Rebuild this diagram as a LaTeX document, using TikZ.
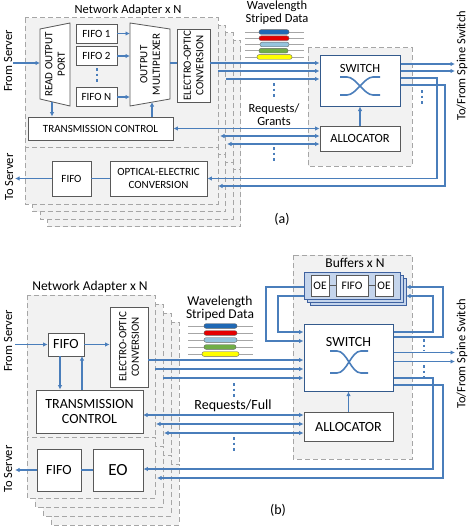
\documentclass[tikz,border=0pt]{standalone}
\usepackage{fontspec}
\setmainfont{Carlito}
\usetikzlibrary{arrows.meta}
\definecolor{lineblue}{RGB}{74,126,187}
\definecolor{boxgray}{RGB}{89,89,89}
\definecolor{stackgray}{RGB}{166,166,166}
\definecolor{stackfill}{RGB}{242,242,242}
\definecolor{switchblue}{RGB}{52,90,140}
\definecolor{buffill}{RGB}{197,213,236}
\definecolor{bufdark}{RGB}{63,98,160}
\definecolor{pblue}{RGB}{31,104,180}
\definecolor{pred}{RGB}{228,0,0}
\definecolor{plblue}{RGB}{150,196,222}
\definecolor{pgreen}{RGB}{112,173,71}
\definecolor{pyellow}{RGB}{255,255,0}

\begin{document}
\begin{tikzpicture}[x=1pt,y=-1pt,
    >={Latex[length=4.5pt,width=4.5pt]},
    wire/.style={lineblue,line width=1.5pt},
    box/.style={draw=boxgray,fill=white,line width=0.8pt,inner sep=0pt,align=center},
    stack/.style={draw=stackgray,fill=stackfill,line width=1pt,dash pattern=on 5pt off 3pt},
    vdots/.style={lineblue,line width=2.6pt,dash pattern=on 2.6pt off 3pt},
    pill/.style={draw=black!60,line width=0.4pt,rounded corners=2pt},
    txa/.style={font=\fontsize{11}{12.5}\selectfont,align=center},
    txm/.style={font=\fontsize{12.5}{13}\selectfont,align=center},
    txb/.style={font=\fontsize{14}{16}\selectfont,align=center}]
    \useasboundingbox (0,0) rectangle (468,527);

    % ---------------- (a) ----------------
    \foreach \k in {22.5,15,7.5,0} {
        \draw[stack] (25+\k,18+\k) rectangle (218+\k,147+\k);
        \draw[stack] (25+\k,147+\k) rectangle (218+\k,204+\k);
    }
    \draw[stack] (308,48) rectangle (412,166);
    \node[txm] (titlea) at (128,10) {Network Adapter x N};

    \draw[box] (40,29) -- (70,23) -- (70,106) -- (40,99) -- cycle;
    \node[txa,rotate=90] (rop) at (55,64.5) {READ OUTPUT\\PORT};
    \draw[box] (130,23) -- (170,29) -- (170,99) -- (130,106) -- cycle;
    \node[txa,rotate=90] (mux) at (150,64.5) {OUTPUT\\MULTIPLEXER};
    \coordinate (ropw) at (40,63);
    \coordinate (rops) at (52,102);
    \coordinate (muxw) at (130,64);
    \coordinate (muxe) at (170,63);
    \coordinate (muxs) at (152,102);

    \node[box,txa,minimum width=41pt,minimum height=19pt] (fifo1) at (96.5,33.5) {FIFO 1};
    \node[box,txa,minimum width=41pt,minimum height=19pt] (fifo2) at (96.5,56) {FIFO 2};
    \node[box,txa,minimum width=41pt,minimum height=19pt] (fifon) at (96.5,97) {FIFO N};
    \draw[vdots] (97,68) -- (97,83);
    \node[box,txa,rotate=90,minimum width=73pt,minimum height=33pt] (eoa) at (193.5,65.5) {ELECTRO-OPTIC\\CONVERSION};
    \node[box,txa,minimum width=145pt,minimum height=23pt] (tca) at (100.5,128.5) {TRANSMISSION CONTROL};
    \node[box,txa,minimum width=39pt,minimum height=35pt] (rfa) at (71.5,178.5) {FIFO};
    \node[box,txa,minimum width=97pt,minimum height=35pt] (oea) at (158.5,178.5) {OPTICAL-ELECTRIC\\CONVERSION};

    \node[box,draw=switchblue,line width=1pt,minimum width=80pt,minimum height=50pt] (swa) at (360,81) {};
    \node[txm] (swalbl) at (360,68) {SWITCH};
    \draw[wire,line width=1.6pt] (340,77) -- (347,77) .. controls (356,77) and (364,95) .. (373,95) -- (380,95);
    \draw[wire,line width=1.6pt] (340,95) -- (347,95) .. controls (356,95) and (364,77) .. (373,77) -- (380,77);
    \node[box,txm,minimum width=80pt,minimum height=25pt] (ala) at (360,138.5) {ALLOCATOR};

    \coordinate (srca) at (13,63);
    \draw[wire,->] (srca) -- (ropw);
    \foreach \f in {fifo1,fifo2,fifon}
        \draw[wire,->] (\f.east) -- (\f.east -| muxw);
    \draw[wire] (muxe) -- (muxe -| eoa.north);
    \draw[wire,->] (rops) -- (rops |- tca.north);
    \draw[wire,->] (muxs |- tca.north) -- (muxs);

    \coordinate (da1) at (210,63);
    \coordinate (da2) at (218,71);
    \coordinate (da3) at (226,79);
    \foreach \d in {da1,da2,da3}
        \draw[wire,->] (\d) -- (\d -| swa.west);
    \coordinate (ra2) at (220,136);
    \coordinate (ra3) at (227,144);
    \draw[wire,<->] (tca.east) -- (tca.east -| ala.west);
    \draw[wire,<->] (ra2) -- (ra2 -| ala.west);
    \draw[wire,<->] (ra3) -- (ra3 -| ala.west);
    \draw[vdots] (274,83) -- (274,98);
    \draw[vdots] (274,147) -- (274,162);
    \node[txm] (reqa) at (274,115) {Requests/\\Grants};
    \draw[wire,->] (ala.north) -- (swa.south);

    \coordinate (sa1) at (455,64);
    \coordinate (sa2) at (455,71);
    \draw[wire,->] (swa.east |- sa1) -- (sa1);
    \draw[wire,->] (swa.east |- sa2) -- (sa2);
    \draw[vdots] (422,90) -- (422,105);
    \coordinate (ka1) at (437,78);
    \coordinate (ta1) at (437,178.5);
    \coordinate (ka2) at (445,85);
    \coordinate (ta2) at (445,186);
    \coordinate (ea2) at (218,186);
    \draw[wire,->] (swa.east |- ka1) -- (ka1) -- (ta1) -- (ta1 -| oea.east);
    \draw[wire,->] (swa.east |- ka2) -- (ka2) -- (ta2) -- (ea2);
    \coordinate (toa) at (15,178.5);
    \draw[wire] (rfa.east) -- (oea.west);
    \draw[wire,->] (rfa.west) -- (toa);

    \node[txm] (wava) at (277,13) {Wavelength\\Striped Data};
    \foreach \y/\c/\l/\r in {32/pblue/259/289,38.25/pred/259/289,44.5/plblue/260/289,50.75/pgreen/259/288,57/pyellow/257/292} {
        \draw[gray!70,line width=0.5pt] (245,\y) -- (304,\y);
        \draw[pill,fill=\c] (\l,\y-2.3) rectangle (\r,\y+2.3);
    }
    \node[txm,rotate=90] (froma) at (8,61) {From Server};
    \node[txm,rotate=90] (toserva) at (9,177) {To Server};
    \node[txm,rotate=90] (spinea) at (462,66) {To/From Spine Switch};
    \node[font=\fontsize{14}{16}\selectfont] (capa) at (282,219) {(a)};

    % ---------------- (b) ----------------
    \foreach \i in {3,2,1,0} {
        \draw[stack] (27+8*\i,295+9*\i) rectangle (155+8*\i,437+9*\i);
        \draw[stack] (27+8*\i,437+9*\i) rectangle (155+8*\i,498+9*\i);
    }
    \draw[stack] (293,255) rectangle (412,459);
    \node[font=\fontsize{13.5}{15}\selectfont] (titleb) at (90,287) {Network Adapter x N};
    \node[font=\fontsize{13.5}{15}\selectfont] (bufl) at (355,263) {Buffers x N};

    \node[box,txb,minimum width=36pt,minimum height=23pt] (fifob) at (66,344.5) {FIFO};
    \node[box,txa,rotate=90,minimum width=80pt,minimum height=38pt] (eob) at (129,347) {ELECTRO-OPTIC\\CONVERSION};
    \node[box,txb,minimum width=107pt,minimum height=43pt] (tcb) at (89.5,411.5) {TRANSMISSION\\CONTROL};
    \node[box,txb,minimum width=44pt,minimum height=42pt] (rfb) at (59,470) {FIFO};
    \node[box,font=\fontsize{17}{19}\selectfont,minimum width=50pt,minimum height=42pt] (oeb) at (118,470) {EO};

    \foreach \s in {6,3}
        \draw[draw=bufdark,fill=buffill,line width=1pt] (304+\s,272+\s) rectangle (400+\s,299+\s);
    \node[draw=bufdark,fill=buffill,line width=1pt,minimum width=96pt,minimum height=27pt,inner sep=0pt] (bufb) at (352,285.5) {};
    \node[box,font=\fontsize{11.5}{13}\selectfont,minimum width=18pt,minimum height=21pt] (oe1) at (320,285.5) {OE};
    \node[box,font=\fontsize{11.5}{13}\selectfont,minimum width=32pt,minimum height=21pt] (ffb) at (352,285.5) {FIFO};
    \node[box,font=\fontsize{11.5}{13}\selectfont,minimum width=18pt,minimum height=21pt] (oe2) at (384,285.5) {OE};
    \draw[boxgray,line width=0.8pt] (oe1.east) -- (ffb.west);
    \draw[boxgray,line width=0.8pt] (ffb.east) -- (oe2.west);

    \node[box,draw=switchblue,line width=1pt,minimum width=89pt,minimum height=67pt] (swb) at (348.5,357.5) {};
    \node[txb] (swblbl) at (348.5,342) {SWITCH};
    \draw[wire,line width=1.6pt] (330,351) -- (337,351) .. controls (347,351) and (351,373) .. (361,373) -- (368,373);
    \draw[wire,line width=1.6pt] (330,373) -- (337,373) .. controls (347,373) and (351,351) .. (361,351) -- (368,351);
    \node[box,txb,minimum width=89pt,minimum height=29pt] (alb) at (348.5,426.5) {ALLOCATOR};

    \coordinate (srcb) at (15,344.5);
    \draw[wire,->] (srcb) -- (fifob.west);
    \draw[wire,->] (fifob.east) -- (fifob.east -| eob.north);
    \coordinate (fd) at (60,356);
    \coordinate (fu) at (82,356);
    \draw[wire,->] (fd) -- (fd |- tcb.north);
    \draw[wire,->] (fu |- tcb.north) -- (fu);

    \coordinate (db1) at (148,360);
    \coordinate (db2) at (155,369);
    \coordinate (db3) at (163,378);
    \foreach \d in {db1,db2,db3}
        \draw[wire,->] (\d) -- (\d -| swb.west);
    \coordinate (rq1) at (143,415);
    \coordinate (rq2) at (156,424);
    \coordinate (rq3) at (164,433);
    \foreach \r in {rq1,rq2,rq3}
        \draw[wire,<->] (\r) -- (\r -| alb.west);
    \draw[vdots] (234,383) -- (234,398);
    \draw[vdots] (234,437) -- (234,452);
    \node[txb] (reqb) at (233,406) {Requests/Full};
    \draw[wire,->] (alb.north) -- (swb.south);

    \coordinate (lb1) at (266,287);
    \coordinate (lb1d) at (266,341);
    \coordinate (lb2) at (278,296);
    \coordinate (lb2d) at (278,332);
    \draw[wire,->] (bufb.west |- lb1) -- (lb1) -- (lb1d) -- (lb1d -| swb.west);
    \draw[wire,->] (bufb.west |- lb2) -- (lb2) -- (lb2d) -- (lb2d -| swb.west);
    \coordinate (bufe) at (406,290);
    \coordinate (rb1) at (433,332);
    \coordinate (rb1u) at (433,296);
    \coordinate (rb2) at (443,337);
    \coordinate (rb2u) at (443,287);
    \draw[wire,->] (swb.east |- rb1) -- (rb1) -- (rb1u) -- (rb1u -| bufe);
    \draw[wire,->] (swb.east |- rb2) -- (rb2) -- (rb2u) -- (rb2u -| bufe);

    \coordinate (sb1) at (455,352.5);
    \coordinate (sb2) at (455,361.5);
    \draw[wire,->] (swb.east |- sb1) -- (sb1);
    \draw[wire,->] (swb.east |- sb2) -- (sb2);
    \draw[vdots] (424,339) -- (424,351);
    \draw[vdots] (424,365) -- (424,377);
    \coordinate (kb1) at (433,378);
    \coordinate (tb1) at (433,469);
    \coordinate (kb2) at (443,385);
    \coordinate (tb2) at (443,478);
    \coordinate (eb2) at (157,478);
    \draw[wire,->] (swb.east |- kb1) -- (kb1) -- (tb1) -- (tb1 -| oeb.east);
    \draw[wire,->] (swb.east |- kb2) -- (kb2) -- (tb2) -- (eb2);
    \coordinate (tob) at (15,470);
    \draw[wire] (rfb.east) -- (oeb.west);
    \draw[wire,->] (rfb.west) -- (tob);

    \node[font=\fontsize{13.5}{13}\selectfont,align=center] (wavb) at (220,308) {Wavelength\\Striped Data};
    \foreach \y/\c/\l/\r in {326/pblue/204/237,333/pred/204/237,340/plblue/204/237,347/pgreen/204/236,354/pyellow/202/239} {
        \draw[gray!70,line width=0.5pt] (188,\y) -- (253,\y);
        \draw[pill,fill=\c] (\l,\y-2.3) rectangle (\r,\y+2.3);
    }
    \node[txm,rotate=90] (fromb) at (8,341) {From Server};
    \node[txm,rotate=90] (toservb) at (8,469) {To Server};
    \node[txm,rotate=90] (spineb) at (462,354) {To/From Spine Switch};
    \node[font=\fontsize{14}{16}\selectfont] (capb) at (278,510) {(b)};
\end{tikzpicture}
\end{document}
